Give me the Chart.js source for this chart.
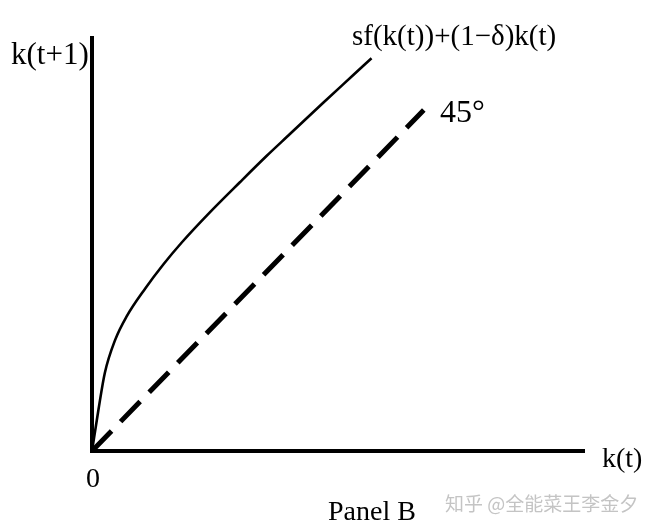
<!DOCTYPE html>
<html>
<head>
<meta charset="utf-8">
<script src="https://cdn.jsdelivr.net/npm/chart.js@4.4.1/dist/chart.umd.min.js"></script>
<style>
  html, body { margin: 0; padding: 0; background: #fff; }
  #wrap { width: 662px; height: 531px; }
</style>
</head>
<body>
<div id="wrap"><canvas id="chart" width="662" height="531"></canvas></div>
<script>
const curveK = [0, 0.13, 0.26, 0.47, 0.70, 1.08, 1.45, 1.82, 2.39, 3.00, 3.54, 4.02, 4.69, 5.30, 5.67];
const curveNext = [0, 0.83, 1.58, 2.25, 2.72, 3.29, 3.78, 4.22, 4.83, 5.44, 5.97, 6.42, 7.05, 7.61, 7.95];
// 45 degree line
const diagK = [0, 6.73];
const diagNext = [0, 6.90];
const axisMax = { x: 10, y: 8.4 };

const labels = {
    yAxis: 'k(t+1)',
    xAxis: 'k(t)',
    curve: 'sf(k(t))+(1\u2212\u03b4)k(t)',
    diag: '45\u00b0',
    origin: '0',
    panel: 'Panel B',
    mark: '知乎 @全能菜王李金夕'
};

function toPoints(xs, ys) {
    return xs.map(function(x, i) { return { x: x, y: ys[i] }; });
}

// axes and the text around the plot
const diagramDecor = {
    id: 'diagramDecor',
    afterDraw: function(chart) {
        const ctx = chart.ctx;
        const sx = chart.scales.x, sy = chart.scales.y;
        const x0 = sx.getPixelForValue(0), y0 = sy.getPixelForValue(0);
        const xEnd = sx.getPixelForValue(axisMax.x), yTop = sy.getPixelForValue(axisMax.y);

        ctx.save();
        ctx.strokeStyle = '#000';
        ctx.lineWidth = 4;
        ctx.lineCap = 'butt';
        ctx.beginPath();
        ctx.moveTo(x0, yTop);
        ctx.lineTo(x0, y0 + 2);
        ctx.moveTo(x0 - 2, y0);
        ctx.lineTo(xEnd, y0);
        ctx.stroke();

        ctx.fillStyle = '#000';
        ctx.textBaseline = 'alphabetic';
        ctx.textAlign = 'left';
        ctx.font = '31px "Liberation Serif"';
        ctx.fillText(labels.yAxis, 11, 64);
        ctx.font = '29px "Liberation Serif"';
        ctx.fillText(labels.curve, 352, 45);
        ctx.font = '32px "Liberation Serif"';
        ctx.fillText(labels.diag, 440, 122);
        ctx.font = '28px "Liberation Serif"';
        ctx.fillText(labels.xAxis, 602, 467);
        ctx.textAlign = 'center';
        ctx.fillText(labels.origin, x0 + 1, 487);
        ctx.textAlign = 'left';
        ctx.fillText(labels.panel, 328, 520);

        ctx.font = '19px "Noto Sans CJK SC"';
        ctx.fillStyle = '#c4c4c4';
        ctx.fillText(labels.mark, 445, 511);
        ctx.restore();
    }
};

new Chart(document.getElementById('chart'), {
    type: 'scatter',
    data: {
        datasets: [{
            label: labels.curve,
            data: toPoints(curveK, curveNext),
            showLine: true,
            borderColor: '#000',
            borderWidth: 2.6,
            pointRadius: 0,
            cubicInterpolationMode: 'monotone'
        }, {
            label: labels.diag,
            data: toPoints(diagK, diagNext),
            showLine: true,
            borderColor: '#000',
            borderWidth: 5,
            borderDash: [28, 13],
            pointRadius: 0
        }]
    },
    options: {
        responsive: false,
        animation: false,
        layout: { padding: { left: 92, right: 77, top: 36, bottom: 80 } },
        plugins: {
            legend: { display: false },
            tooltip: { enabled: false }
        },
        scales: {
            x: { type: 'linear', display: false, min: 0, max: axisMax.x },
            y: { type: 'linear', display: false, min: 0, max: axisMax.y }
        }
    },
    plugins: [diagramDecor]
});
</script>
</body>
</html>
